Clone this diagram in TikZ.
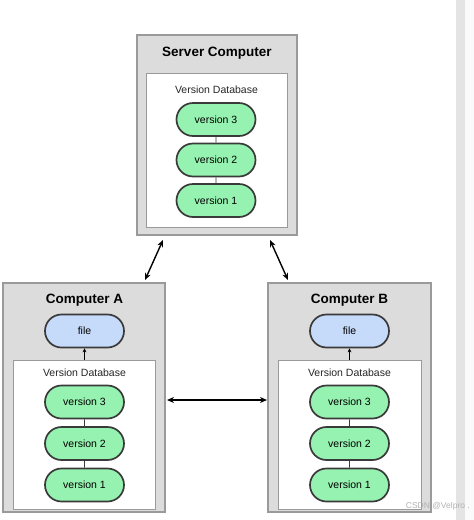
\documentclass[tikz,border=0pt]{standalone}
\usepackage{fontspec}
\setmainfont{Liberation Sans}
\usetikzlibrary{shapes.misc,arrows.meta}
\definecolor{boxgray}{HTML}{DCDCDC}
\definecolor{boxline}{HTML}{9A9A9A}
\definecolor{vgreen}{HTML}{96F2B0}
\definecolor{fblue}{HTML}{C6DAFA}
\definecolor{pillline}{HTML}{3A3A3A}
\definecolor{strip}{HTML}{E4E4E4}
\tikzset{
  machine/.style={draw=boxline, fill=boxgray, line width=1.2pt},
  dbbox/.style={draw=boxline, fill=white, line width=1pt},
  pill/.style={rounded rectangle, draw=pillline, line width=1.7pt, minimum width=79pt, minimum height=33pt, inner sep=0pt, font=\fontsize{10.5}{12}\selectfont},
  version/.style={pill, fill=vgreen},
  filepill/.style={pill, fill=fblue},
  title/.style={font=\bfseries\fontsize{13.5}{16}\selectfont},
  dblabel/.style={font=\fontsize{10.5}{12}\selectfont, text=black!85},
  link/.style={draw=pillline, line width=0.8pt},
  sync/.style={line width=1.4pt, {Stealth[length=7pt,width=6pt]}-{Stealth[length=7pt,width=6pt]}},
  up/.style={line width=0.8pt, -{Stealth[length=4pt,width=4pt]}},
}
\begin{document}
\begin{tikzpicture}[x=1pt,y=-1pt]
\useasboundingbox (0,0) rectangle (474,520);
\fill[strip] (456,0) rectangle (465,520);
\fill[black!2] (465,0) rectangle (474,520);
% Server
\path[machine] (137,35) rectangle (297,235);
\node[title] (st) at (217,53) {Server Computer};
\path[dbbox] (146,73) rectangle (287,227);
\node[dblabel] (sdb) at (216.5,90) {Version Database};
\node[version] (s3) at (216,119.5) {version 3};
\node[version] (s2) at (216,160) {version 2};
\node[version] (s1) at (216,200.5) {version 1};
\draw[link] (s3) -- (s2);
\draw[link] (s2) -- (s1);
% Computer A
\path[machine] (3,283) rectangle (165,512);
\node[title] (at) at (84.5,300) {Computer A};
\node[filepill] (af) at (84.5,331) {file};
\path[dbbox] (13,360) rectangle (155,509);
\coordinate (adbtop) at (84.5,360);
\node[dblabel] (adb) at (84.5,373) {Version Database};
\node[version] (a3) at (84.5,402) {version 3};
\node[version] (a2) at (84.5,443.5) {version 2};
\node[version] (a1) at (84.5,485) {version 1};
\draw[link] (a3) -- (a2);
\draw[link] (a2) -- (a1);
\draw[up] (adbtop) -- (af);
% Computer B
\path[machine] (268,283) rectangle (431,512);
\node[title] (bt) at (349.5,300) {Computer B};
\node[filepill] (bf) at (349.5,331) {file};
\path[dbbox] (278,360) rectangle (421,509);
\coordinate (bdbtop) at (349.5,360);
\node[dblabel] (bdb) at (349.5,373) {Version Database};
\node[version] (b3) at (349.5,402) {version 3};
\node[version] (b2) at (349.5,443.5) {version 2};
\node[version] (b1) at (349.5,485) {version 1};
\draw[link] (b3) -- (b2);
\draw[link] (b2) -- (b1);
\draw[up] (bdbtop) -- (bf);
% sync arrows
\coordinate (sA) at (163,240);
\coordinate (aS) at (145,280);
\coordinate (sB) at (270,240);
\coordinate (bS) at (288,280);
\coordinate (aB) at (167,400);
\coordinate (bA) at (267,400);
\draw[sync] (sA) -- (aS);
\draw[sync] (sB) -- (bS);
\draw[sync] (aB) -- (bA);
% watermark
\node[text=black!30, font=\fontsize{8.5}{10}\selectfont, anchor=east, inner sep=0pt] (wm) at (470,506) {CSDN @Velpro .};
\end{tikzpicture}
\end{document}
